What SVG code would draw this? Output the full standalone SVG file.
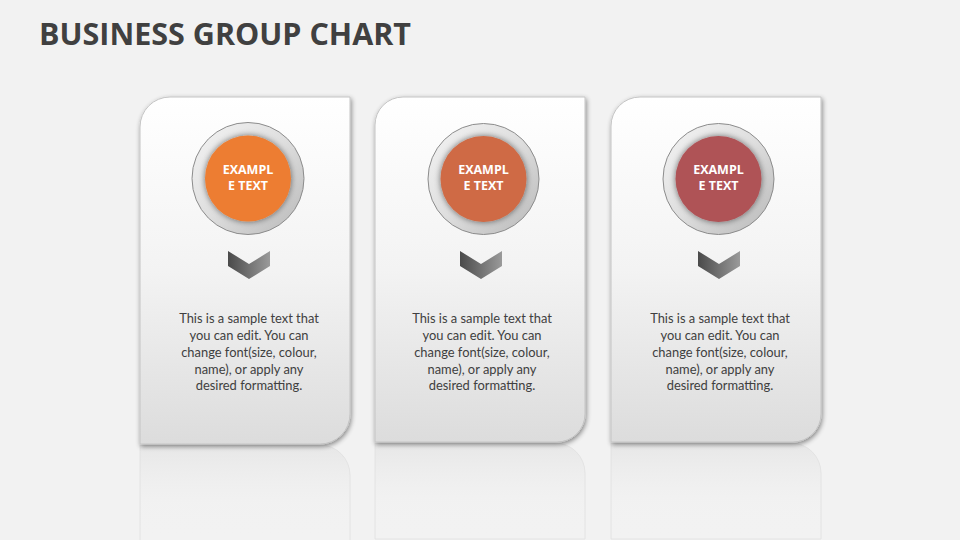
<svg xmlns="http://www.w3.org/2000/svg" width="960" height="540" viewBox="0 0 960 540">
<defs>
<linearGradient id="cardG" x1="0" y1="0" x2="0" y2="1">
<stop offset="0" stop-color="#ffffff"/>
<stop offset="0.5" stop-color="#f3f3f3"/>
<stop offset="1" stop-color="#dcdcdc"/>
</linearGradient>
<linearGradient id="reflG" x1="0" y1="0" x2="0" y2="1">
<stop offset="0" stop-color="#e4e4e4" stop-opacity="0.8"/>
<stop offset="0.6" stop-color="#f0f0f0" stop-opacity="0.35"/>
<stop offset="1" stop-color="#f2f2f2" stop-opacity="0"/>
</linearGradient>
<linearGradient id="ringG" x1="0" y1="0" x2="1" y2="1">
<stop offset="0" stop-color="#f4f4f4"/>
<stop offset="0.5" stop-color="#dedede"/>
<stop offset="1" stop-color="#b8b8b8"/>
</linearGradient>
<linearGradient id="chevG" x1="0" y1="0" x2="1" y2="0">
<stop offset="0" stop-color="#4a4a4a"/>
<stop offset="1" stop-color="#9a9a9a"/>
</linearGradient>
<filter id="sh" x="-20%" y="-20%" width="140%" height="140%">
<feGaussianBlur in="SourceAlpha" stdDeviation="2.5"/>
<feOffset dx="1" dy="2"/>
<feComponentTransfer><feFuncA type="linear" slope="0.45"/></feComponentTransfer>
<feMerge><feMergeNode/><feMergeNode in="SourceGraphic"/></feMerge>
</filter>
<filter id="glow" x="-30%" y="-30%" width="160%" height="160%">
<feGaussianBlur in="SourceAlpha" stdDeviation="3"/>
<feComponentTransfer><feFuncA type="linear" slope="0.55"/></feComponentTransfer>
<feMerge><feMergeNode/><feMergeNode in="SourceGraphic"/></feMerge>
</filter>
<path id="refl" d="M0,0 H180 A30,30 0 0 1 210,30 V96 H0 Z"/>
</defs>
<style>
.title{font-family:"Open Sans","Liberation Sans",sans-serif;font-weight:700;font-size:30px;fill:#404040}
.lbl{font-family:"Open Sans","Liberation Sans",sans-serif;font-weight:700;font-size:12.5px;fill:#ffffff;text-anchor:middle}
.body{font-family:Lato,"Liberation Sans",sans-serif;font-size:12.9px;fill:#404040;text-anchor:middle}
.cardbox{fill:url(#cardG);stroke:#c4c4c4;stroke-width:1}
.ring{fill:url(#ringG);stroke:#8c8c8c;stroke-width:1}
.chev{fill:url(#chevG)}
.refl{fill:url(#reflG);stroke:#e0e0e0;stroke-width:0.8}
</style>
<rect width="960" height="540" fill="#f2f2f2"/>
<text class="title" x="39" y="45" textLength="372" lengthAdjust="spacingAndGlyphs">BUSINESS GROUP CHART</text>

<g id="node1">
<use href="#refl" class="refl" x="140" y="445"/>
<g filter="url(#sh)"><path class="cardbox" d="M170,97 H350 V414 A30,30 0 0 1 320,444 H140 V127 A30,30 0 0 1 170,97 Z"/></g>
<circle class="ring" cx="248" cy="178.5" r="56"/>
<circle cx="248" cy="178.5" r="43" fill="#ed7d31" filter="url(#glow)"/>
<text class="lbl" x="248" y="174">EXAMPL</text>
<text class="lbl" x="248" y="190">E TEXT</text>
<polygon class="chev" points="228,251 249,264 270,251 270,266 249,279 228,266"/>
<text class="body" x="249" y="323">This is a sample text that</text>
<text class="body" x="249" y="340">you can edit. You can</text>
<text class="body" x="249" y="357">change font(size, colour,</text>
<text class="body" x="249" y="374">name), or apply any</text>
<text class="body" x="249" y="390">desired formatting.</text>
</g>

<g id="node2">
<use href="#refl" class="refl" x="375" y="443"/>
<g filter="url(#sh)"><path class="cardbox" d="M403,97 H585 V414 A28,28 0 0 1 557,442 H375 V125 A28,28 0 0 1 403,97 Z"/></g>
<circle class="ring" cx="483.5" cy="179" r="55.5"/>
<circle cx="483.5" cy="179" r="43" fill="#cf6a45" filter="url(#glow)"/>
<text class="lbl" x="483.5" y="174">EXAMPL</text>
<text class="lbl" x="483.5" y="190">E TEXT</text>
<polygon class="chev" points="460,251 481,264 502,251 502,266 481,279 460,266"/>
<text class="body" x="482" y="323">This is a sample text that</text>
<text class="body" x="482" y="340">you can edit. You can</text>
<text class="body" x="482" y="357">change font(size, colour,</text>
<text class="body" x="482" y="374">name), or apply any</text>
<text class="body" x="482" y="390">desired formatting.</text>
</g>

<g id="node3">
<use href="#refl" class="refl" x="611" y="443"/>
<g filter="url(#sh)"><path class="cardbox" d="M640,97 H821 V414 A28,28 0 0 1 793,442 H611 V126 A29,29 0 0 1 640,97 Z"/></g>
<circle class="ring" cx="718.5" cy="179" r="55.5"/>
<circle cx="718.5" cy="179" r="43" fill="#af5256" filter="url(#glow)"/>
<text class="lbl" x="718.5" y="174">EXAMPL</text>
<text class="lbl" x="718.5" y="190">E TEXT</text>
<polygon class="chev" points="698,251 719,264 740,251 740,266 719,279 698,266"/>
<text class="body" x="720" y="323">This is a sample text that</text>
<text class="body" x="720" y="340">you can edit. You can</text>
<text class="body" x="720" y="357">change font(size, colour,</text>
<text class="body" x="720" y="374">name), or apply any</text>
<text class="body" x="720" y="390">desired formatting.</text>
</g>
<g id="connectors"/>
</svg>
